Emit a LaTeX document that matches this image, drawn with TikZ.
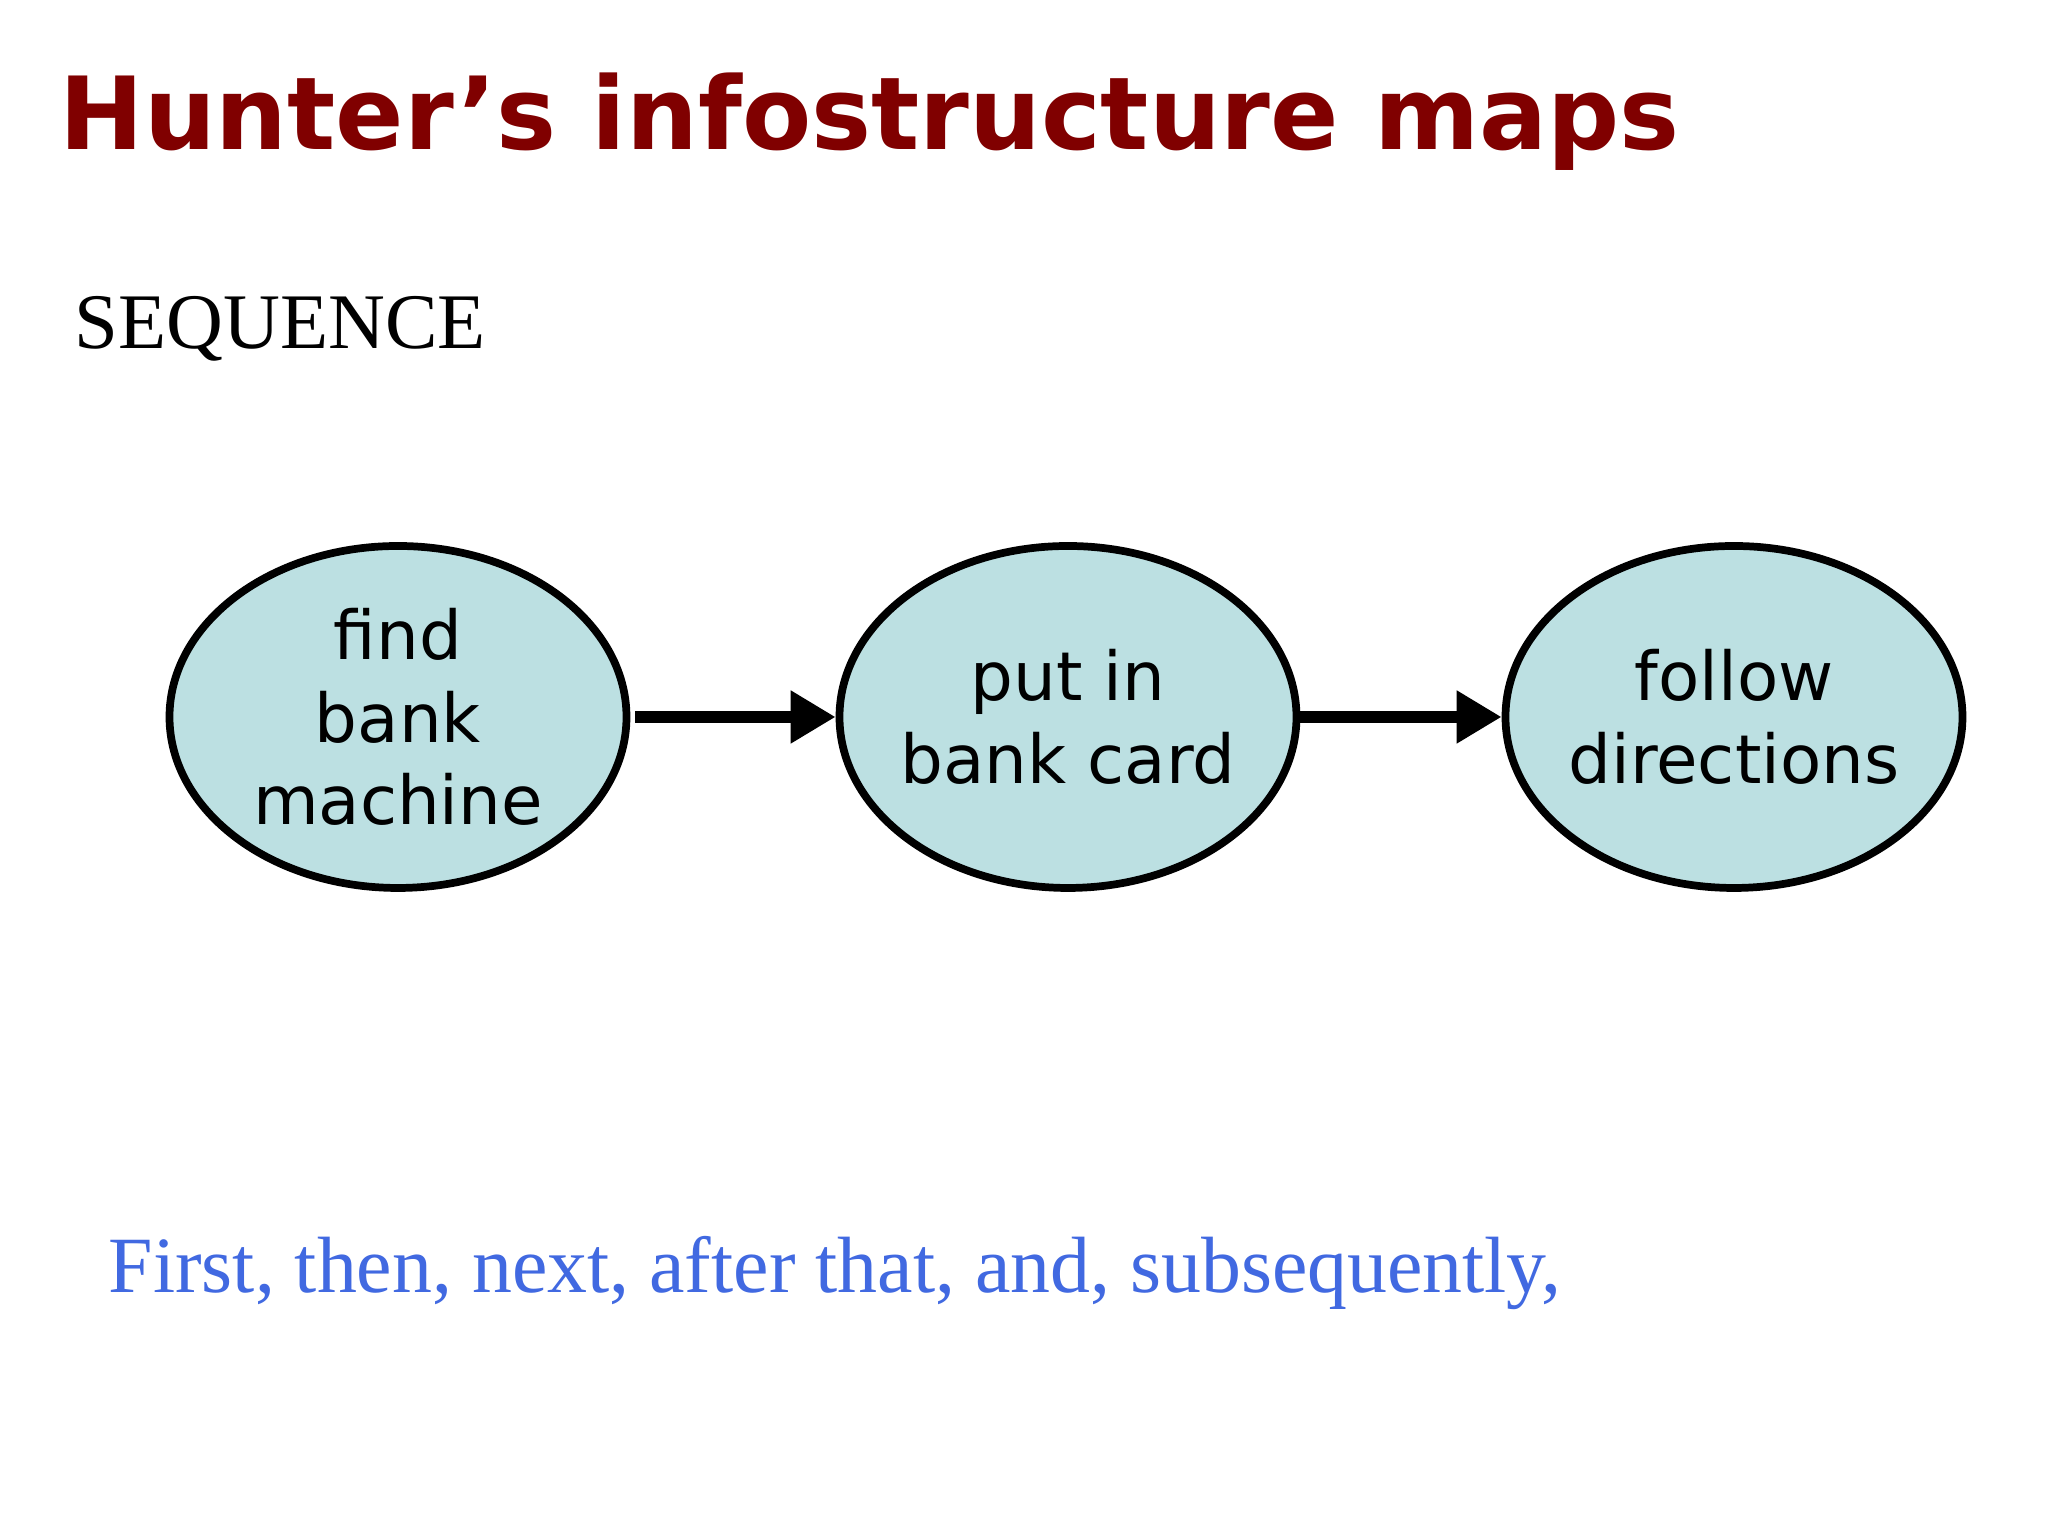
\documentclass[tikz,border=0pt]{standalone}
\usepackage{fontspec}
\setmainfont{Liberation Serif}
\newfontfamily\vsans{DejaVu Sans}
\usetikzlibrary{shapes.geometric,arrows.meta}
\definecolor{titlered}{RGB}{128,0,0}
\definecolor{ellfill}{RGB}{188,224,226}
\definecolor{blutext}{RGB}{65,105,225}
\tikzset{
  stepell/.style={ellipse,draw,line width=2.2pt,fill=ellfill,minimum width=4.57cm,minimum height=3.42cm,inner xsep=-0.3cm,inner ysep=0pt,align=center,font=\vsans\fontsize{19.2}{23.5}\selectfont},
  seqarrow/.style={line width=3.6pt,-{Triangle[length=0.45cm,width=0.5cm]}}
}
\begin{document}
\begin{tikzpicture}
\useasboundingbox[fill=white] (0,0) rectangle (20.48,15.36);
\node[anchor=base west,inner sep=0pt,text=titlered,font=\vsans\bfseries\fontsize{28.7}{34}\selectfont] (title) at (0.59,13.86) {Hunter’s infostructure maps};
\node[anchor=base west,inner sep=0pt,font=\fontsize{22.4}{27}\selectfont] (seq) at (0.74,11.87) {SEQUENCE};
\node[stepell] (a) at (3.98,8.19) {find\\bank\\machine};
\node[stepell] (b) at (10.68,8.19) {put in\\bank card};
\node[stepell] (c) at (17.34,8.19) {follow\\directions};
\draw[seqarrow] (a.east) ++(0.05,0) coordinate (a1) -- (b.west);
\draw[seqarrow] (b.east) -- (c.west);
\node[anchor=base west,inner sep=0pt,text=blutext,font=\fontsize{22.7}{27}\selectfont] (foot) at (1.08,2.43) {First, then, next, after that, and, subsequently,};
\end{tikzpicture}
\end{document}
